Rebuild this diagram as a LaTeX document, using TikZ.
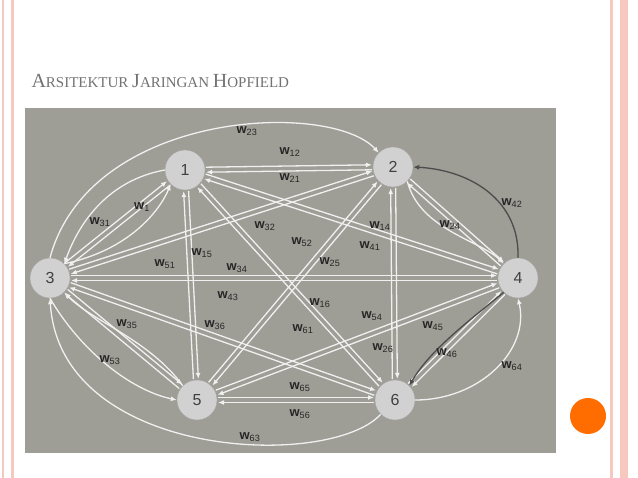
\documentclass[tikz,border=0pt]{standalone}
\usepackage{fontspec}
\setmainfont{Liberation Serif}
\setsansfont{Liberation Sans}
\usetikzlibrary{calc,arrows.meta}
\definecolor{photo}{RGB}{158,157,150}
\definecolor{barpink}{RGB}{246,200,190}
\newcommand{\bigc}[1]{{\fontsize{20}{20}\selectfont #1}}
\begin{document}
\begin{tikzpicture}[x=1pt,y=-1pt,
  neuron/.style={circle,fill=black!18,draw=black!35,minimum size=40pt,inner sep=0pt,font=\sffamily\fontsize{16}{16}\selectfont,text=black!75},
  link/.style={draw=black!6,line width=1.3pt,-{Latex[length=6pt,width=5pt]},shorten >=21pt,shorten <=21pt},
  wl/.style={font=\sffamily\bfseries\fontsize{13}{13}\selectfont,text=black!85,inner sep=0pt}]
\useasboundingbox (0,0) rectangle (638,478);
\fill[white] (0,0) rectangle (638,478);
\fill[barpink] (2,0) rectangle (4,478);
\fill[barpink] (11,0) rectangle (14,478);
\fill[barpink] (610,0) rectangle (613,478);
\fill[barpink] (620,0) rectangle (628,478);
\node[anchor=base west,text=black!55,font=\fontsize{15}{15}\selectfont] (title) at (28,88) {\bigc{A}RSITEKTUR \bigc{J}ARINGAN \bigc{H}OPFIELD};
\fill[photo] (25,108) rectangle (556,453);
\node[circle,fill=orange!85!red,minimum size=36pt,inner sep=0] (dot) at (588,416) {};
\node[neuron] (n1) at (185,170) {1};
\node[neuron] (n2) at (393,167) {2};
\node[neuron] (n3) at (50,278) {3};
\node[neuron] (n4) at (518,278) {4};
\node[neuron] (n5) at (197,400) {5};
\node[neuron] (n6) at (395,400) {6};
\foreach \a/\b in {1/2,1/3,1/4,1/5,1/6,2/3,2/4,2/5,2/6,3/4,3/5,3/6,4/5,4/6,5/6}{
  \draw[link] ($(n\a)!2.5pt!90:(n\b)$) -- ($(n\b)!2.5pt!-90:(n\a)$);
  \draw[link] ($(n\b)!2.5pt!90:(n\a)$) -- ($(n\a)!2.5pt!-90:(n\b)$);
}
\draw[link,shorten >=0pt,shorten <=0pt] (n3.north) .. controls (90,110) and (330,100) .. (n2.north west);
\draw[link,shorten >=0pt,shorten <=0pt] (n6.south west) .. controls (330,470) and (60,460) .. (n3.south);
\draw[link,shorten >=0pt,shorten <=0pt] (n1.west) .. controls (110,180) and (80,220) .. (n3.north east);
\draw[link,shorten >=0pt,shorten <=0pt] (n3.north east) .. controls (130,250) and (160,210) .. (n1.south west);
\draw[link,shorten >=0pt,shorten <=0pt] (n2.south east) .. controls (420,230) and (480,240) .. (n4.north west);
\draw[link,draw=black!70,shorten >=0pt,shorten <=0pt] (n4.north) .. controls (520,200) and (470,170) .. (n2.east);
\draw[link,draw=black!70,shorten >=0pt,shorten <=0pt] (n4.south west) .. controls (470,320) and (430,350) .. (n6.north east);
\draw[link,shorten >=0pt,shorten <=0pt] (n6.east) .. controls (480,400) and (530,350) .. (n4.south);
\draw[link,shorten >=0pt,shorten <=0pt] (n3.south) .. controls (80,350) and (130,390) .. (n5.west);
\draw[link,shorten >=0pt,shorten <=0pt] (n5.north west) .. controls (150,340) and (90,320) .. (n3.south east);
\foreach \t/\x/\y in {23/247/131,12/290/152,21/290/178,31/100/222,1/142/207,32/265/226,52/302/242,14/380/226,41/370/246,24/450/225,42/512/203,15/202/253,51/165/264,34/237/268,25/330/262,43/228/296,16/320/303,54/372/316,45/433/326,35/127/324,36/215/325,61/303/329,26/383/348,46/447/353,53/110/360,64/512/366,65/300/387,56/300/414,63/250/437}
  \node[wl] (w\t) at (\x,\y) {w$_{\mathsf{\t}}$};
\end{tikzpicture}
\end{document}
